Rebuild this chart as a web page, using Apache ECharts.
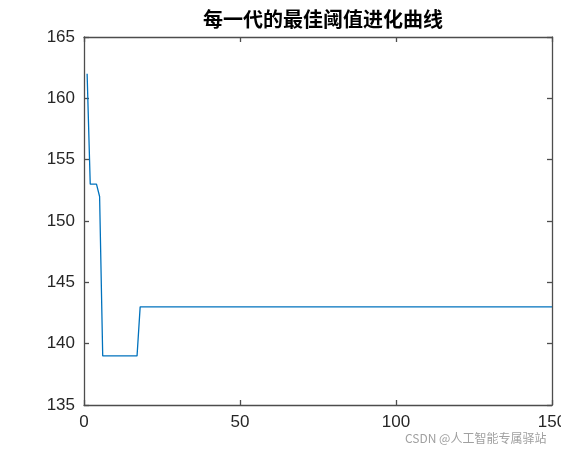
<!doctype html>
<html lang="zh">
<head>
    <meta charset="utf-8">
    <title>每一代的最佳阈值进化曲线</title>
    <script src="https://cdn.jsdelivr.net/npm/echarts@6/dist/echarts.min.js"></script>
    <style>
        html, body { margin: 0; padding: 0; background: #fff; overflow: hidden; }
        #chart { width: 561px; height: 455px; }
    </style>
</head>
<body>
    <div id="chart"></div>
    <script>
        // breakpoints of the curve (generation, best threshold)
        let generations = [1, 2, 4, 5, 6, 17, 18, 150];
        let bestThreshold = [162, 153, 153, 152, 139, 139, 143, 143];
        let xTicks = [0, 50, 100, 150];
        let yTicks = [135, 140, 145, 150, 155, 160, 165];

        let myChart = echarts.init(document.getElementById('chart'));
        let axisColor = '#4d4d4d';
        let font = 'Liberation Sans, Arial, sans-serif';

        function boxAxis(pos, min, max, interval, showLabel) {
            return {
                type: 'value',
                position: pos,
                min: min,
                max: max,
                interval: interval,
                axisLine: { show: true, onZero: false, lineStyle: { color: axisColor, width: 1.3 } },
                axisTick: { show: true, inside: true, length: 5, lineStyle: { color: axisColor, width: 1.3 } },
                axisLabel: {
                    show: showLabel,
                    color: '#262626',
                    fontSize: 17,
                    fontFamily: font,
                    margin: 9,
                    showMaxLabel: true,
                    hideOverlap: false
                },
                splitLine: { show: false }
            };
        }

        let option = {
            animation: false,
            backgroundColor: '#fff',
            title: {
                text: '每一代的最佳阈值进化曲线',
                left: 318,
                top: 4,
                textAlign: 'center',
                textStyle: { fontSize: 20, fontWeight: 'bold', color: '#000', fontFamily: 'Noto Sans CJK SC, sans-serif' }
            },
            graphic: [{
                type: 'text',
                left: 405,
                top: 432,
                style: { text: 'CSDN @人工智能专属驿站', fill: '#a0a0a0', fontSize: 12, fontFamily: 'Noto Sans CJK SC, sans-serif' }
            }],
            grid: { left: 84, right: 9, top: 37, bottom: 50, containLabel: false, outerBoundsMode: 'none' },
            xAxis: [
                boxAxis('bottom', xTicks[0], xTicks[xTicks.length - 1], 50, true),
                boxAxis('top', xTicks[0], xTicks[xTicks.length - 1], 50, false)
            ],
            yAxis: [
                boxAxis('left', yTicks[0], yTicks[yTicks.length - 1], 5, true),
                boxAxis('right', yTicks[0], yTicks[yTicks.length - 1], 5, false)
            ],
            series: [{
                type: 'line',
                data: generations.map((g, i) => [g, bestThreshold[i]]),
                showSymbol: false,
                lineStyle: { color: '#0072BD', width: 1.3 },
                itemStyle: { color: '#0072BD' }
            }]
        };
        myChart.setOption(option);
    </script>
</body>
</html>
